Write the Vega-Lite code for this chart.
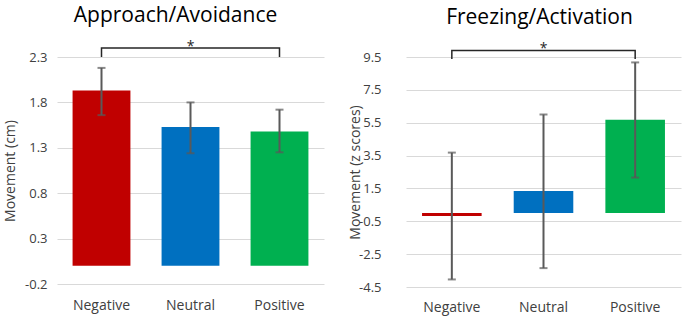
{
  "$schema": "https://vega.github.io/schema/vega-lite/v6.json",
  "background": "white",
  "padding": {"left": 3, "top": 4, "right": 2, "bottom": 4},
  "spacing": 24,
  "config": {
    "font": "Open Sans",
    "view": {"stroke": null},
    "axis": {
      "labelFont": "Open Sans",
      "titleFont": "Open Sans",
      "labelFontSize": 13,
      "titleFontSize": 14,
      "labelColor": "#404040",
      "titleColor": "#404040",
      "titleFontWeight": "normal",
      "domain": false,
      "ticks": false,
      "gridColor": "#d9d9d9",
      "gridWidth": 1
    },
    "title": {"fontSize": 21, "fontWeight": "normal", "color": "#000000", "font": "Open Sans", "offset": 14}
  },
  "datasets": {
    "approach": [
      {"condition": "Negative", "mean": 1.93, "lo": 1.66, "hi": 2.18},
      {"condition": "Neutral", "mean": 1.53, "lo": 1.24, "hi": 1.8},
      {"condition": "Positive", "mean": 1.48, "lo": 1.25, "hi": 1.72}
    ],
    "freezing": [
      {"condition": "Negative", "mean": -0.18, "lo": -4.04, "hi": 3.68},
      {"condition": "Neutral", "mean": 1.35, "lo": -3.35, "hi": 6.0},
      {"condition": "Positive", "mean": 5.68, "lo": 2.16, "hi": 9.17}
    ],
    "bracketA": [
      {"condition": "Negative", "step": 1, "y": 2.3},
      {"condition": "Negative", "step": 2, "y": 2.4},
      {"condition": "Positive", "step": 3, "y": 2.4},
      {"condition": "Positive", "step": 4, "y": 2.3}
    ],
    "bracketF": [
      {"condition": "Negative", "step": 1, "y": 9.38},
      {"condition": "Negative", "step": 2, "y": 9.9},
      {"condition": "Positive", "step": 3, "y": 9.9},
      {"condition": "Positive", "step": 4, "y": 9.38}
    ],
    "starA": [{"condition": "Neutral", "y": 2.4, "label": "*"}],
    "starF": [{"condition": "Neutral", "y": 9.9, "label": "*"}]
  },
  "hconcat": [
    {
      "title": {"text": "Approach/Avoidance", "dx": -15},
      "width": 267,
      "height": 227,
      "layer": [
        {
          "data": {"name": "approach"},
          "mark": {"type": "bar"},
          "encoding": {
            "x": {"field": "condition", "type": "nominal",
              "scale": {"domain": ["Negative", "Neutral", "Positive"], "paddingInner": 0.35, "paddingOuter": 0.175},
              "axis": {"title": null, "labelAngle": 0, "labelPadding": 14, "labelFontSize": 14}},
            "y": {"field": "mean", "type": "quantitative",
              "scale": {"domain": [-0.2, 2.3], "nice": false, "zero": false},
              "axis": {"title": "Movement (cm)", "values": [-0.2, 0.3, 0.8, 1.3, 1.8, 2.3], "tickCount": 20, "labelExpr": "replace(format(datum.value, '.1f'), '\u2212', '-')", "labelOverlap": false, "grid": true, "labelPadding": 10, "titleX": -40}},
            "color": {"field": "condition", "type": "nominal",
              "scale": {"domain": ["Negative", "Neutral", "Positive"], "range": ["#C00000", "#0070C0", "#00B050"]}, "legend": null}
          }
        },
        {
          "mark": {"type": "rule", "color": "#d9d9d9", "strokeWidth": 1},
          "encoding": {"y": {"datum": 0}}
        },
        {
          "data": {"name": "approach"},
          "mark": {"type": "rule", "color": "#595959", "strokeWidth": 2},
          "encoding": {
            "x": {"field": "condition", "type": "nominal"},
            "y": {"field": "lo", "type": "quantitative"},
            "y2": {"field": "hi"}
          }
        },
        {
          "data": {"name": "approach"},
          "mark": {"type": "tick", "color": "#595959", "thickness": 2, "size": 8},
          "encoding": {
            "x": {"field": "condition", "type": "nominal"},
            "y": {"field": "lo", "type": "quantitative"}
          }
        },
        {
          "data": {"name": "approach"},
          "mark": {"type": "tick", "color": "#595959", "thickness": 2, "size": 8},
          "encoding": {
            "x": {"field": "condition", "type": "nominal"},
            "y": {"field": "hi", "type": "quantitative"}
          }
        },
        {
          "data": {"name": "bracketA"},
          "mark": {"type": "line", "color": "#262626", "strokeWidth": 1.5, "clip": false},
          "encoding": {
            "x": {"field": "condition", "type": "nominal"},
            "y": {"field": "y", "type": "quantitative"},
            "order": {"field": "step"}
          }
        },
        {
          "data": {"name": "starA"},
          "mark": {"type": "text", "fontSize": 14, "color": "#262626", "baseline": "alphabetic", "dy": 3},
          "encoding": {
            "x": {"field": "condition", "type": "nominal"},
            "y": {"field": "y", "type": "quantitative"},
            "text": {"field": "label"}
          }
        }
      ]
    },
    {
      "title": {"text": "Freezing/Activation", "dx": -4},
      "width": 275,
      "height": 230,
      "layer": [
        {
          "data": {"name": "freezing"},
          "mark": {"type": "bar"},
          "encoding": {
            "x": {"field": "condition", "type": "nominal",
              "scale": {"domain": ["Negative", "Neutral", "Positive"], "paddingInner": 0.35, "paddingOuter": 0.175},
              "axis": {"title": null, "labelAngle": 0, "labelPadding": 13, "labelFontSize": 14}},
            "y": {"field": "mean", "type": "quantitative",
              "scale": {"domain": [-4.5, 9.5], "nice": false, "zero": false},
              "axis": {"title": "Movement (z scores)", "values": [-4.5, -2.5, -0.5, 1.5, 3.5, 5.5, 7.5, 9.5], "tickCount": 20, "labelExpr": "replace(format(datum.value, '.1f'), '\u2212', '-')", "labelOverlap": false, "grid": true, "labelPadding": 25, "titleX": -44}},
            "color": {"field": "condition", "type": "nominal",
              "scale": {"domain": ["Negative", "Neutral", "Positive"], "range": ["#C00000", "#0070C0", "#00B050"]}, "legend": null}
          }
        },
        {
          "mark": {"type": "rule", "color": "#d9d9d9", "strokeWidth": 1},
          "encoding": {"y": {"datum": 0}}
        },
        {
          "data": {"name": "freezing"},
          "mark": {"type": "rule", "color": "#595959", "strokeWidth": 2},
          "encoding": {
            "x": {"field": "condition", "type": "nominal"},
            "y": {"field": "lo", "type": "quantitative"},
            "y2": {"field": "hi"}
          }
        },
        {
          "data": {"name": "freezing"},
          "mark": {"type": "tick", "color": "#595959", "thickness": 2, "size": 8},
          "encoding": {
            "x": {"field": "condition", "type": "nominal"},
            "y": {"field": "lo", "type": "quantitative"}
          }
        },
        {
          "data": {"name": "freezing"},
          "mark": {"type": "tick", "color": "#595959", "thickness": 2, "size": 8},
          "encoding": {
            "x": {"field": "condition", "type": "nominal"},
            "y": {"field": "hi", "type": "quantitative"}
          }
        },
        {
          "data": {"name": "bracketF"},
          "mark": {"type": "line", "color": "#262626", "strokeWidth": 1.5, "clip": false},
          "encoding": {
            "x": {"field": "condition", "type": "nominal"},
            "y": {"field": "y", "type": "quantitative"},
            "order": {"field": "step"}
          }
        },
        {
          "data": {"name": "starF"},
          "mark": {"type": "text", "fontSize": 14, "color": "#262626", "baseline": "alphabetic", "dy": 3},
          "encoding": {
            "x": {"field": "condition", "type": "nominal"},
            "y": {"field": "y", "type": "quantitative"},
            "text": {"field": "label"}
          }
        }
      ]
    }
  ]
}
